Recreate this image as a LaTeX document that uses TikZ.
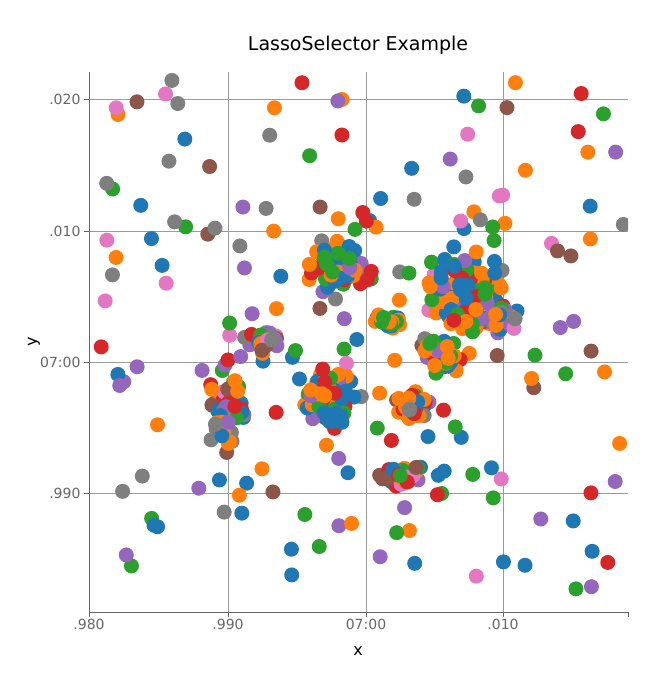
\documentclass[tikz,border=0pt]{standalone}
\usepackage{fontspec}
\setmainfont{DejaVu Sans}
\definecolor{c1}{HTML}{1F77B4}
\definecolor{c2}{HTML}{FF7F0E}
\definecolor{c3}{HTML}{2CA02C}
\definecolor{c4}{HTML}{D62728}
\definecolor{c5}{HTML}{9467BD}
\definecolor{c6}{HTML}{8C564B}
\definecolor{c7}{HTML}{E377C2}
\definecolor{c8}{HTML}{7F7F7F}
\definecolor{gridc}{HTML}{9A9A9A}
\definecolor{tickc}{HTML}{666666}
\pgfmathdeclarerandomlist{cols}{{c1}{c2}{c3}{c4}{c5}{c6}{c7}{c8}{c1}{c2}}
\pgfmathdeclarerandomlist{colsb}{{c1}{c2}{c3}{c4}{c1}{c2}{c3}{c5}{c1}{c2}}
\newcommand{\mycluster}[6]{%
 \foreach \i in {1,...,#5}{%
  \pgfmathsetmacro\px{#1+#3*(rand+rand)/2}%
  \pgfmathsetmacro\py{#2+#4*(rand+rand)/2}%
  \pgfmathrandomitem{\cc}{#6}%
  \fill[\cc] (\px,\py) circle (7.5);}}
\newcommand{\myuniform}[5]{%
 \foreach \i in {1,...,#5}{%
  \pgfmathsetmacro\px{#1+#3*rand}%
  \pgfmathsetmacro\py{#2+#4*rand}%
  \pgfmathrandomitem{\cc}{cols}%
  \fill[\cc] (\px,\py) circle (7.5);}}
\tikzset{tl/.style={text=tickc,font=\fontsize{14}{16}\selectfont}}
\begin{document}
\begin{tikzpicture}[x=1pt,y=-1pt]
\useasboundingbox[fill=white] (0,0) rectangle (672,675);
\foreach \x in {228,366,503} \draw[gridc] (\x,72)--(\x,612);
\foreach \y in {99,231,362,493} \draw[gridc] (89,\y)--(628,\y);
\begin{scope}
\clip (89,72) rectangle (628,612);
\pgfmathsetseed{4242}
\myuniform{360}{335}{265}{255}{150}
\myuniform{360}{335}{150}{150}{60}
\mycluster{268}{342}{12}{12}{30}{cols}
\mycluster{228}{410}{20}{45}{50}{cols}
\mycluster{326}{398}{22}{32}{80}{colsb}
\mycluster{410}{405}{16}{16}{40}{cols}
\mycluster{340}{265}{35}{25}{80}{colsb}
\mycluster{385}{322}{22}{8}{25}{colsb}
\mycluster{465}{295}{40}{45}{130}{colsb}
\mycluster{440}{355}{20}{22}{35}{colsb}
\mycluster{400}{478}{22}{12}{30}{cols}
\mycluster{505}{318}{22}{12}{25}{cols}
\end{scope}
\draw[tickc] (89,72)--(89,612)--(628,612);
\draw[tickc] (628,612)--(628,617);
\foreach \x/\l in {89/.980,228/.990,366/07:00,503/.010}{
 \draw[tickc] (\x,612)--(\x,617);
 \node[tl,anchor=north] at (\x,616) {\l};}
\foreach \y/\l in {99/.020,231/.010,362/07:00,493/.990}{
 \draw[tickc] (84,\y)--(89,\y);
 \node[tl,anchor=east] at (84,\y) {\l};}
\node[font=\fontsize{16}{18}\selectfont] at (358,651) {x};
\node[font=\fontsize{16}{18}\selectfont,rotate=90] at (34,342) {y};
\node[font=\fontsize{19}{22}\selectfont] at (358,45) {LassoSelector Example};
\end{tikzpicture}
\end{document}
